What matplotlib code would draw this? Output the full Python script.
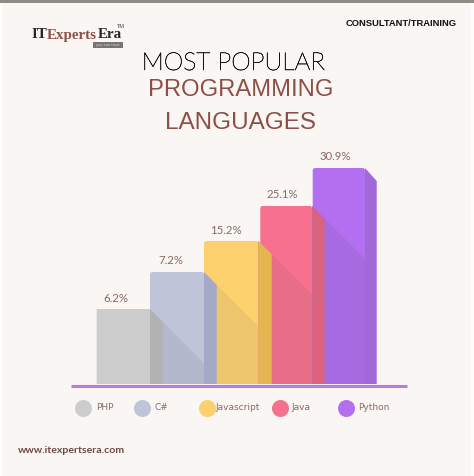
import matplotlib
matplotlib.use('Agg')
import matplotlib.pyplot as plt
import matplotlib.patheffects as pe
from matplotlib.path import Path
from matplotlib.patches import PathPatch, Rectangle

languages = ['PHP', 'C#', 'Javascript', 'Java', 'Python']
shares = [6.2, 7.2, 15.2, 25.1, 30.9]
# the bars on the poster are not to scale, so heights are read off separately
bar_heights = [75, 112, 143, 178, 216]

face_colors = ['#cdcdcd', '#c0c4d9', '#fdd06e', '#f7708e', '#b46ff0']
shade_colors = ['#cdcdcd', '#b3b8cc', '#ecc56c', '#e66e88', '#a86ae0']
side_colors = ['#b2b2b2', '#a3a9c6', '#e4b64f', '#d9627f', '#9f69d8']

BG = '#f9f6f3'
BROWN = '#8d4f45'
LABEL = '#8a6a66'

bar_left = [96.7, 150, 204, 260.3, 312.7]
bar_right = [150, 204, 258.3, 312.2, 365]
side_right = [162.7, 216.7, 271.7, 324.5, 376.7]
label_center = [116, 171, 226, 282, 335]
DEPTH = 13
# axes units are pixels, y measured upwards from the baseline
BASE_PX = 384

fig = plt.figure(figsize=(4.74, 4.76), dpi=100, facecolor=BG)
ax = fig.add_axes([0, 0, 1, 1])
ax.set_xlim(0, 474)
ax.set_ylim(BASE_PX - 476, BASE_PX)
ax.axis('off')


def py(pixel_y):
    return BASE_PX - pixel_y


def rounded_top(left, right, top, r=2.5):
    verts = [(left, 0), (left, top - r), (left, top), (left + r, top),
             (right - r, top), (right, top), (right, top - r), (right, 0), (left, 0)]
    codes = [Path.MOVETO, Path.LINETO, Path.CURVE3, Path.CURVE3,
             Path.LINETO, Path.CURVE3, Path.CURVE3, Path.LINETO, Path.CLOSEPOLY]
    return Path(verts, codes)


# edge strips of the screenshot
ax.add_patch(Rectangle((0, py(2.5)), 474, 2.5, color='#8f8b85', lw=0, zorder=0))
ax.add_patch(Rectangle((0, py(476)), 2.5, 473.5, color='#ffffff', lw=0, zorder=0))
ax.add_patch(Rectangle((471.5, py(476)), 2.5, 473.5, color='#fdfcfb', lw=0, zorder=0))

# faces
for i, h in enumerate(bar_heights):
    left = bar_left[i]
    right = bar_right[i]
    r = 0.5 if i == 0 else 2.5
    ax.add_patch(PathPatch(rounded_top(left, right, h, r), fc=face_colors[i], ec='none', zorder=2))
    if i > 0:
        # shadow thrown by the previous bar, 45 degree edge
        prev = bar_heights[i - 1]
        start = bar_right[i - 1]
        ax.fill([start, right, right, start], [prev, prev - (right - start), 0, 0],
                color=shade_colors[i], lw=0, zorder=3)

# side walls sit over the next bar
for i, h in enumerate(bar_heights):
    ax.fill([bar_right[i], side_right[i], side_right[i], bar_right[i]],
            [h, h - DEPTH, 0, 0], color=side_colors[i], lw=0, zorder=4)

ax.plot([71, 407], [-1.5, -1.5], color='#b57be0', lw=2.2, solid_capstyle='butt', zorder=5)

# value labels
for i, (h, s) in enumerate(zip(bar_heights, shares)):
    ax.text(label_center[i], h + 11, f'{s}%', ha='center', va='center',
            fontsize=8.2, color=LABEL, family='Lato')

# legend
legend_x = [82.7, 142, 206.7, 280, 346]
label_x = [96.5, 154.5, 215.5, 291.5, 358.5]
for i, name in enumerate(languages):
    ax.scatter(legend_x[i], py(408), s=150, color=face_colors[i], lw=0, zorder=3)
    ax.text(label_x[i], py(407), name, ha='left', va='center', fontsize=6.5,
            color=LABEL, family='DejaVu Sans')

# title, light weight with a hairline stroke to darken it
title = ax.text(233.5, py(63), 'MOST POPULAR', ha='center', va='center', fontsize=17.8,
                color='#111111', family='Lato', fontweight='light')
title.set_path_effects([pe.withStroke(linewidth=0.35, foreground='#111111')])
ax.text(240.5, py(90), 'PROGRAMMING', ha='center', va='center', fontsize=17.1,
        color=BROWN, family='Liberation Sans')
ax.text(241, py(123), 'LANGUAGES', ha='center', va='center', fontsize=17.5,
        color=BROWN, family='Liberation Sans')

ax.text(401.5, py(23), 'CONSULTANT/TRAINING', ha='center', va='center', fontsize=6.75,
        color='#111111', family='Liberation Sans', fontweight='bold')
ax.text(18, py(450.5), 'www.itexpertsera.com', ha='left', va='center', fontsize=7.55,
        color='#6d4a45', family='Lato', fontweight='bold')

# logo
ax.text(32, py(38.5), 'IT', ha='left', va='baseline', fontsize=10.8, color='#2a2624',
        family='Liberation Serif', fontweight='bold')
ax.text(46.5, py(38.5), 'Experts', ha='left', va='baseline', fontsize=10.8, color=BROWN,
        family='Liberation Serif', fontweight='bold')
ax.text(98, py(38.5), 'Era', ha='left', va='baseline', fontsize=10.8, color='#2a2624',
        family='Liberation Serif', fontweight='bold')
ax.text(117, py(26), 'TM', ha='left', va='center', fontsize=4, color='#444444',
        family='Liberation Sans')
ax.add_patch(Rectangle((93, py(48)), 30, 6, color='#77736f', lw=0, zorder=2))
ax.text(108, py(45), 'you can trust', ha='center', va='center', fontsize=2.5,
        color='#dddddd', zorder=3, family='DejaVu Sans')

fig.savefig('out.png', dpi=100, facecolor=BG)
